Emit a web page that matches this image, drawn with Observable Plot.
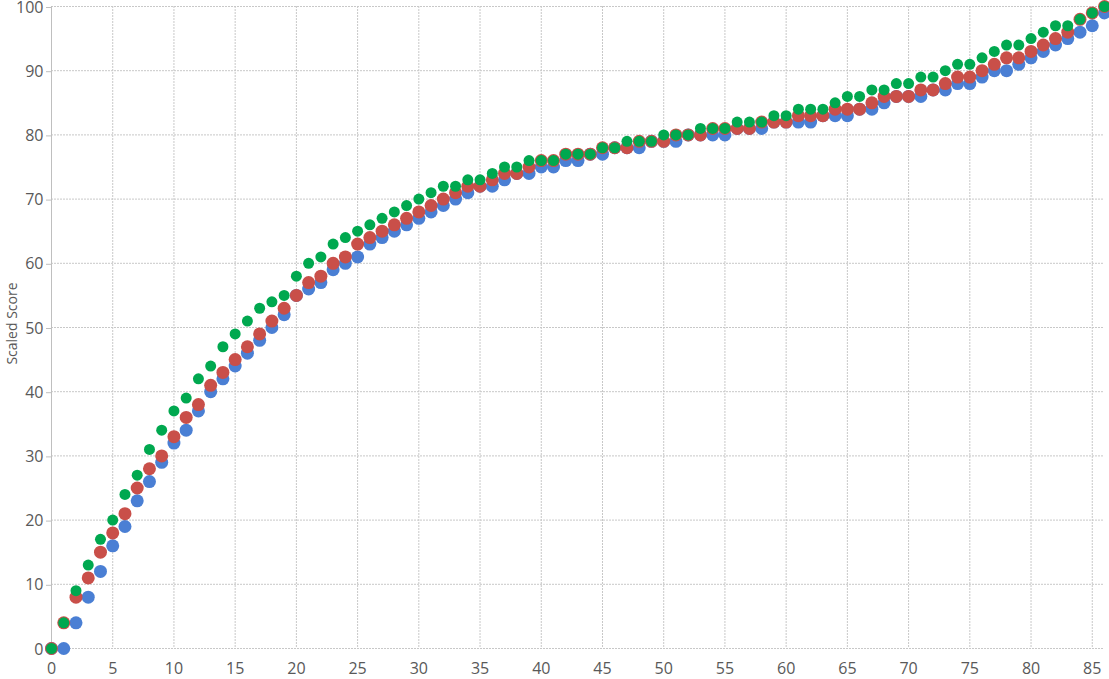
<!DOCTYPE html>
<html><head><meta charset="utf-8">
<script src="https://cdn.jsdelivr.net/npm/d3@7"></script>
<script src="https://cdn.jsdelivr.net/npm/@observablehq/plot@0.6"></script>
<style>html,body{margin:0;padding:0;background:#fff;} svg{display:block}</style>
</head><body><div id="chart"></div>
<script>
// Scaled score by raw score (index = raw score 0..86)
const seriesBlue = [0,0,4,8,12,16,19,23,26,29,32,34,37,40,42,44,46,48,50,52,55,56,57,59,60,61,63,64,65,66,67,68,69,70,71,72,72,73,74,74,75,75,76,76,77,77,78,78,78,79,79,79,80,80,80,80,81,81,81,82,82,82,82,83,83,83,84,84,85,86,86,86,87,87,88,88,89,90,90,91,92,93,94,95,96,97,99];
const seriesRed = [0,4,8,11,15,18,21,25,28,30,33,36,38,41,43,45,47,49,51,53,55,57,58,60,61,63,64,65,66,67,68,69,70,71,72,72,73,74,74,75,76,76,77,77,77,78,78,78,79,79,79,80,80,80,81,81,81,81,82,82,82,83,83,83,84,84,84,85,86,86,86,87,87,88,89,89,90,91,92,92,93,94,95,96,98,99,100];
const seriesGreen = [0,4,9,13,17,20,24,27,31,34,37,39,42,44,47,49,51,53,54,55,58,60,61,63,64,65,66,67,68,69,70,71,72,72,73,73,74,75,75,76,76,76,77,77,77,78,78,79,79,79,80,80,80,81,81,81,82,82,82,83,83,84,84,84,85,86,86,87,87,88,88,89,89,90,91,91,92,93,94,94,95,96,97,97,98,99,100];
const xTicks = [0,5,10,15,20,25,30,35,40,45,50,55,60,65,70,75,80,85];
const yTicks = [0,10,20,30,40,50,60,70,80,90,100];
const yLabel = "Scaled Score";
const colors = {blue:"#4a7fd4", red:"#c94f49", green:"#00a84f"};

const toRows = (vals, s) => vals.map((v, i) => ({x: i, y: v, s}));
const blueRows = toRows(seriesBlue, "blue");
const redRows = toRows(seriesRed, "red");
const greenRows = toRows(seriesGreen, "green");

const gridStyle = {stroke: "#c8c8c8", strokeDasharray: "2,1", strokeWidth: 1};

const chart = Plot.plot({
  width: 1109, height: 679,
  marginLeft: 51, marginRight: 5, marginTop: 6, marginBottom: 31,
  x: {domain: [0, 86]},
  y: {domain: [0, 100]},
  style: {fontFamily: "'Open Sans', sans-serif", fontSize: "16px", color: "#595959", background: "#fff"},
  marks: [
    Plot.ruleX(xTicks.filter(d => d > 0), gridStyle),
    Plot.ruleY(yTicks, gridStyle),
    Plot.ruleX([0], {stroke: "#bfbfbf"}),
    Plot.axisX({ticks: xTicks, tickSize: 0, tickPadding: 14, label: null}),
    Plot.axisY({ticks: yTicks, tickSize: 5, tickPadding: 3, label: null, stroke: "#bfbfbf", dy: 1}),
    Plot.dot(blueRows, {x: "x", y: "y", r: 6.5, fill: colors.blue}),
    Plot.dot(redRows, {x: "x", y: "y", r: 6.5, fill: colors.red}),
    Plot.dot(greenRows, {x: "x", y: "y", r: 5.5, fill: colors.green}),
    Plot.text([yLabel], {text: d => d, frameAnchor: "left", textAnchor: "middle", lineAnchor: "middle", dx: -39, dy: -4, rotate: -90, fontSize: 14, fill: "#595959"})
  ]
});
document.getElementById("chart").appendChild(chart);
</script>
</body></html>
